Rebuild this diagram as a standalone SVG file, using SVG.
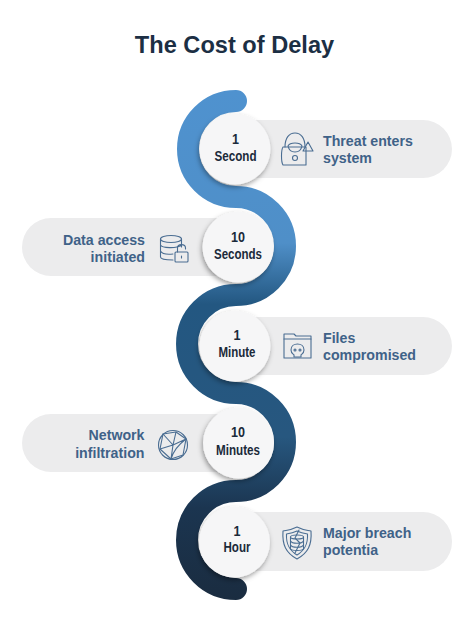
<svg xmlns="http://www.w3.org/2000/svg" width="474" height="628" viewBox="0 0 474 628">
<style>
.pill{fill:#ececed}
.disc{fill:#f6f6f7;filter:url(#ds)}
.t{font-family:"Liberation Sans",Arial,sans-serif;font-weight:700}
.lab{font-size:14.2px;fill:#3f6288}
.num{font-size:15.5px;fill:#1b2a3a;text-anchor:middle}
.ic{fill:none;stroke:#4a6d92;stroke-width:1.1;stroke-linejoin:round;stroke-linecap:round}
</style>
<defs>
<linearGradient id="rib" gradientUnits="userSpaceOnUse" x1="0" y1="90" x2="0" y2="600">
<stop offset="0" stop-color="#4f92cf"/>
<stop offset=".3" stop-color="#4f8fc8"/>
<stop offset=".42" stop-color="#235781"/>
<stop offset=".68" stop-color="#27577f"/>
<stop offset=".82" stop-color="#1b3550"/>
<stop offset="1" stop-color="#1a2c40"/>
</linearGradient>
<filter id="ds" x="-30%" y="-30%" width="160%" height="160%">
<feDropShadow dx="-1" dy="2.500" stdDeviation="2.500" flood-color="#000" flood-opacity=".38"/>
</filter>
</defs>
<rect width="474" height="628" fill="#fff"/>
<text class="t" x="234.500" y="53" font-size="23.600" fill="#1c2f44" text-anchor="middle">The Cost of Delay</text>
<g id="pills">
<rect class="pill" x="215" y="120" width="237" height="58" rx="29"/>
<rect class="pill" x="22" y="218" width="237" height="58" rx="29"/>
<rect class="pill" x="215" y="317" width="237" height="58" rx="29"/>
<rect class="pill" x="22" y="414" width="237" height="58" rx="29"/>
<rect class="pill" x="215" y="512" width="237" height="59" rx="29"/>
</g>
<g id="connectors">
<path d="M236 101A48 48 0 0 0 236 197A49 49 0 0 1 236 295A49 49 0 0 0 236 393A49 49 0 0 1 236 491A49 49 0 0 0 236 589" fill="none" stroke="url(#rib)" stroke-width="22" stroke-linecap="round"/>
</g>
<g id="node-1">
<circle class="disc" cx="235" cy="149" r="35.500"/>
<text class="t num" x="235.500" y="144" textLength="7" lengthAdjust="spacingAndGlyphs">1</text>
<text class="t num" x="235.500" y="161" textLength="42" lengthAdjust="spacingAndGlyphs">Second</text>
<text class="t lab" x="323" y="146">Threat enters</text>
<text class="t lab" x="323" y="163">system</text>
<g class="ic">
<path d="M285 147C285 138 289 133 295 133C301 133 305 138 305 147"/>
<path d="M288 146C290 142 300 142 302 146C301 151 298 152 295 152C292 152 289 151 288 146Z"/>
<path d="M283 147H306V165H283C281 162 281 150 283 147Z"/>
<circle cx="295" cy="158" r="2.500"/>
<path d="M308 142L313 151H303Z"/>
</g>
</g>
<g id="node-2">
<circle class="disc" cx="238" cy="247" r="35.500"/>
<text class="t num" x="238" y="242" textLength="14" lengthAdjust="spacingAndGlyphs">10</text>
<text class="t num" x="238" y="259" textLength="48" lengthAdjust="spacingAndGlyphs">Seconds</text>
<text class="t lab" x="145" y="245" text-anchor="end">Data access</text>
<text class="t lab" x="145" y="262" text-anchor="end">initiated</text>
<g class="ic">
<ellipse cx="171" cy="239" rx="10.500" ry="3.500"/>
<path d="M160.500 239V257C160.500 259 165 260 173 260M181.500 239V247M160.500 245C162 248 176 249 181.500 245M160.500 251C162 254 168 254.500 173 254"/>
<rect x="175" y="252" width="13" height="10" rx="1"/>
<path d="M177.500 252V248C177.500 243.500 185.500 243.500 185.500 248V249"/>
<path d="M181.500 256V258"/>
</g>
</g>
<g id="node-3">
<circle class="disc" cx="235" cy="346" r="35.500"/>
<text class="t num" x="237" y="340" textLength="7" lengthAdjust="spacingAndGlyphs">1</text>
<text class="t num" x="237" y="357" textLength="37" lengthAdjust="spacingAndGlyphs">Minute</text>
<text class="t lab" x="323" y="343">Files</text>
<text class="t lab" x="323" y="360">compromised</text>
<g class="ic">
<path d="M284 358V334H294L296 336H311V358Z"/>
<path d="M284 339H311"/>
<path d="M291 350C291 342 304 342 304 350C304 353 302 354 301 355V357H294V355C293 354 291 353 291 350Z"/>
<circle cx="295" cy="350" r="1"/>
<circle cx="300" cy="350" r="1"/>
</g>
</g>
<g id="node-4">
<circle class="disc" cx="238.500" cy="443" r="35.500"/>
<text class="t num" x="238" y="437" textLength="14" lengthAdjust="spacingAndGlyphs">10</text>
<text class="t num" x="238" y="455" textLength="44" lengthAdjust="spacingAndGlyphs">Minutes</text>
<text class="t lab" x="144.500" y="440" text-anchor="end">Network</text>
<text class="t lab" x="144.500" y="458" text-anchor="end">infiltration</text>
<g class="ic">
<circle cx="173" cy="445" r="14.500"/>
<path d="M163 434L176 432L186 439L183 455L171 459L160 449Z"/>
<path d="M163 434L173 445L186 439M173 445L160 449M173 445L171 459M176 432L173 445M171 459C173 452 178 445 186 439"/>
</g>
</g>
<g id="node-5">
<circle class="disc" cx="234.500" cy="542" r="35.500"/>
<text class="t num" x="237" y="536" textLength="7" lengthAdjust="spacingAndGlyphs">1</text>
<text class="t num" x="237" y="552" textLength="27" lengthAdjust="spacingAndGlyphs">Hour</text>
<text class="t lab" x="323" y="538">Major breach</text>
<text class="t lab" x="323" y="555">potentia</text>
<g class="ic">
<path d="M297 527C291 530 288 530 283 531C282 545 286 553 297 559C308 553 312 545 311 531C306 530 303 530 297 527Z"/>
<path d="M297 531C293 533 290 533.500 286.500 534C286 544 289 550 297 555C305 550 308 544 307.500 534C304 533.500 301 533 297 531Z"/>
<ellipse cx="297" cy="537" rx="6.500" ry="2"/>
<path d="M290.500 537V549C292 551 302 551 303.500 549V537M290.500 541C292 544 302 544 303.500 541M290.500 545C292 548 302 548 303.500 545"/>
<path d="M299 530L295 538L300 543L295 553"/>
</g>
</g>
</svg>
